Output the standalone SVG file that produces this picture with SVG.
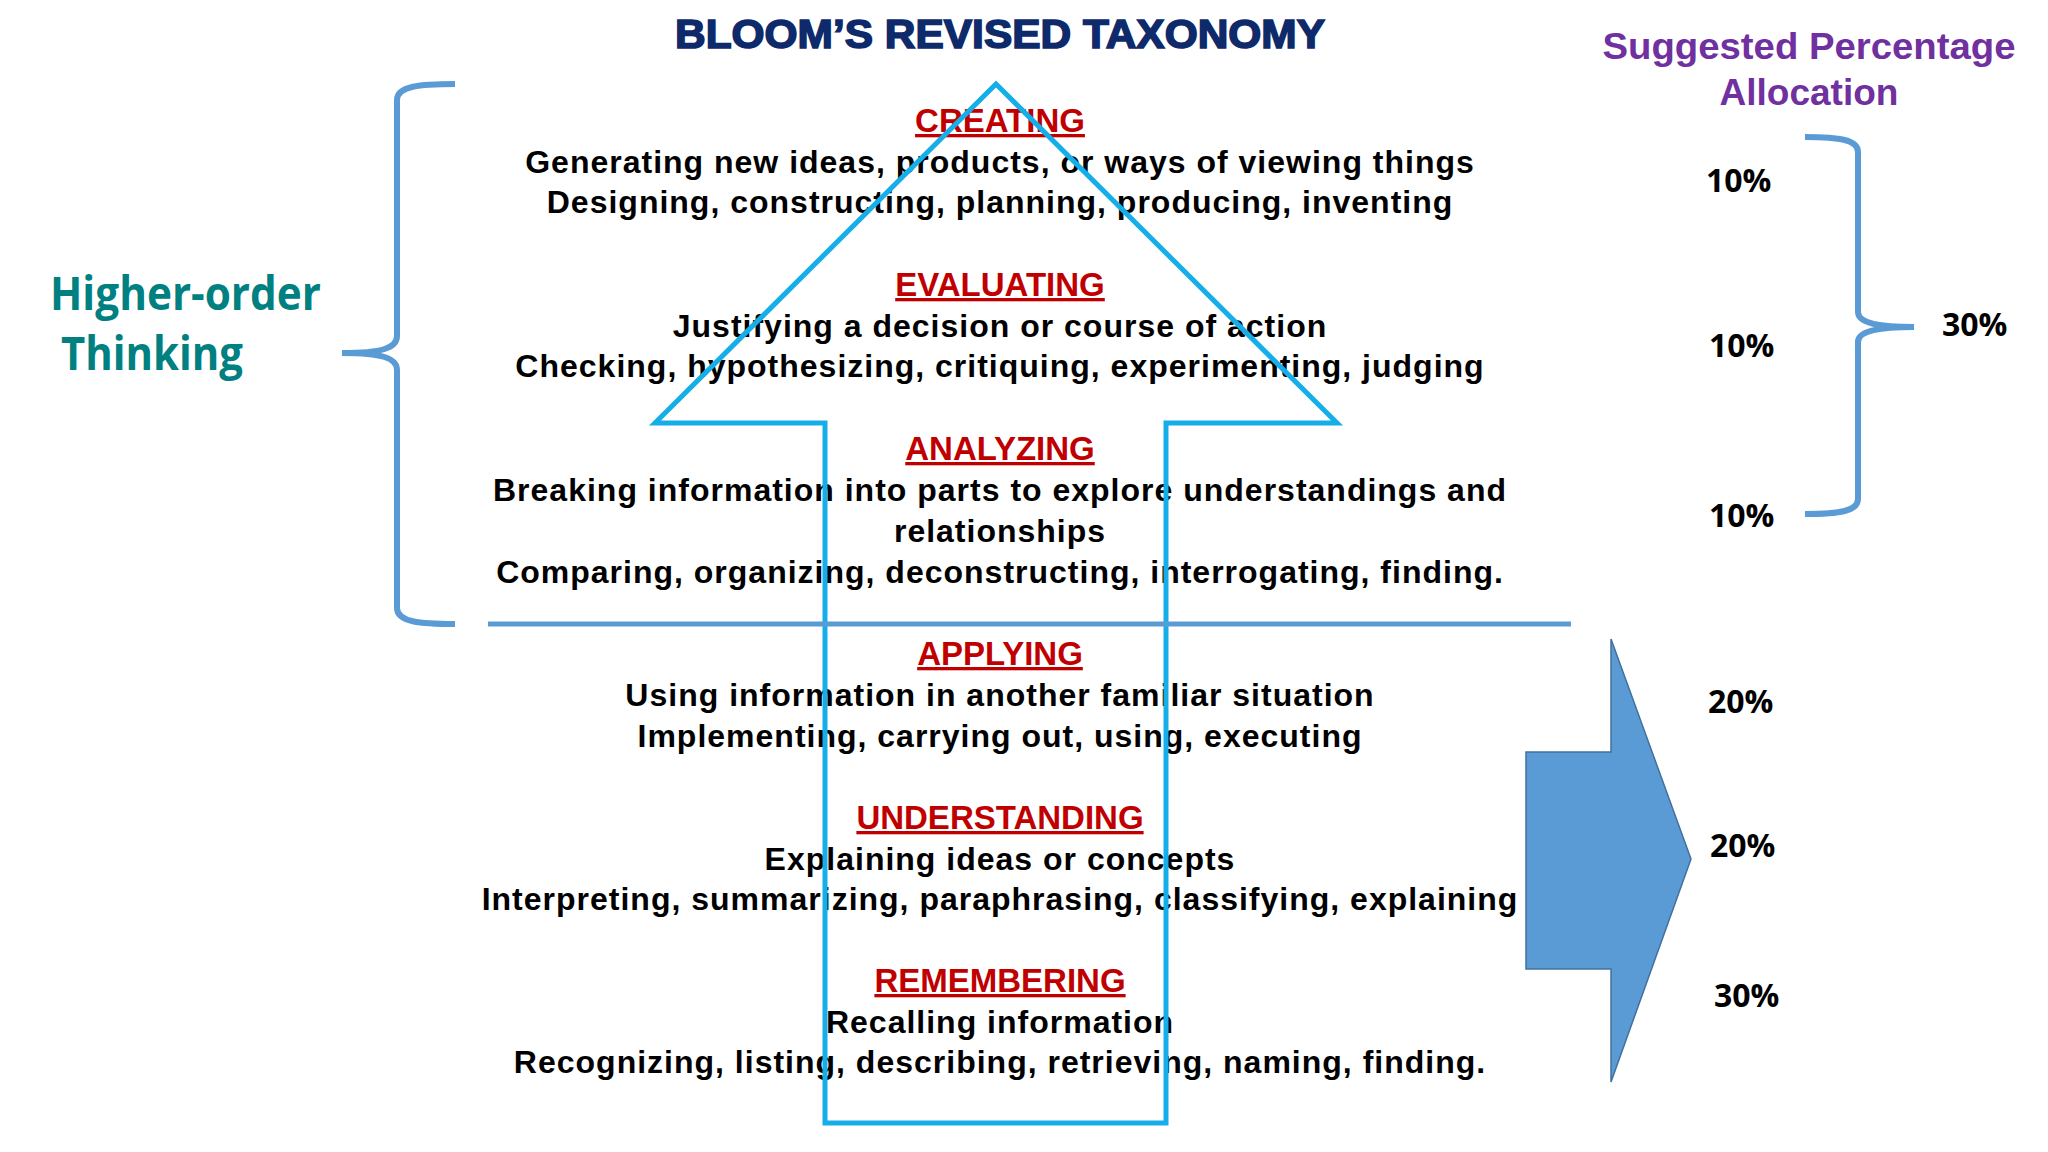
<svg xmlns="http://www.w3.org/2000/svg" width="2048" height="1152" viewBox="0 0 2048 1152">
<style>
.title{font-family:"Liberation Sans",Arial,sans-serif;font-weight:bold;font-size:40px;fill:#0E2A6B;stroke:#0E2A6B;stroke-width:1.6px}
.head{font-family:"Liberation Sans",Arial,sans-serif;font-weight:bold;font-size:33px;fill:#C00000;text-decoration:underline}
.body{font-family:"Liberation Sans",Arial,sans-serif;font-weight:bold;font-size:32px;letter-spacing:1px;fill:#000}
.pct{font-family:"Open Sans","Liberation Sans",sans-serif;font-weight:bold;font-size:32px;fill:#000}
.side{font-family:"Open Sans","Liberation Sans",sans-serif;font-weight:bold;font-size:46px;fill:#008080}
.alloc{font-family:"Liberation Sans",Arial,sans-serif;font-weight:bold;font-size:37px;fill:#7030A0}
.brace{fill:none;stroke:#5B9BD5;stroke-width:6;stroke-linecap:butt}
.up{fill:none;stroke:#16AEE8;stroke-width:5;stroke-linejoin:miter}
</style>
<rect width="2048" height="1152" fill="#FFFFFF"/>
<g id="title">
<text class="title" x="1000" y="48" text-anchor="middle" textLength="650" lengthAdjust="spacingAndGlyphs">BLOOM’S REVISED TAXONOMY</text>
</g>
<g id="higher-order">
<text class="side" x="50" y="310" textLength="271" lengthAdjust="spacingAndGlyphs">Higher-order</text>
<text class="side" x="61" y="370" textLength="182" lengthAdjust="spacingAndGlyphs">Thinking</text>
</g>
<g id="allocation-title" text-anchor="middle">
<text class="alloc" x="1809" y="59" textLength="413" lengthAdjust="spacingAndGlyphs">Suggested Percentage</text>
<text class="alloc" x="1809" y="105">Allocation</text>
</g>
<g id="creating" text-anchor="middle">
<text class="head" x="1000" y="132">CREATING</text>
<text class="body" x="1000" y="173">Generating new ideas, products, or ways of viewing things</text>
<text class="body" x="1000" y="213">Designing, constructing, planning, producing, inventing</text>
</g>
<g id="evaluating" text-anchor="middle">
<text class="head" x="1000" y="296">EVALUATING</text>
<text class="body" x="1000" y="337">Justifying a decision or course of action</text>
<text class="body" x="1000" y="377">Checking, hypothesizing, critiquing, experimenting, judging</text>
</g>
<g id="analyzing" text-anchor="middle">
<text class="head" x="1000" y="460">ANALYZING</text>
<text class="body" x="1000" y="501">Breaking information into parts to explore understandings and</text>
<text class="body" x="1000" y="542">relationships</text>
<text class="body" x="1000" y="583">Comparing, organizing, deconstructing, interrogating, finding.</text>
</g>
<g id="applying" text-anchor="middle">
<text class="head" x="1000" y="665">APPLYING</text>
<text class="body" x="1000" y="706">Using information in another familiar situation</text>
<text class="body" x="1000" y="747">Implementing, carrying out, using, executing</text>
</g>
<g id="understanding" text-anchor="middle">
<text class="head" x="1000" y="829">UNDERSTANDING</text>
<text class="body" x="1000" y="870">Explaining ideas or concepts</text>
<text class="body" x="1000" y="910">Interpreting, summarizing, paraphrasing, classifying, explaining</text>
</g>
<g id="remembering" text-anchor="middle">
<text class="head" x="1000" y="992">REMEMBERING</text>
<text class="body" x="1000" y="1033">Recalling information</text>
<text class="body" x="1000" y="1073">Recognizing, listing, describing, retrieving, naming, finding.</text>
</g>
<g id="percentages">
<text class="pct" x="1706" y="192">10%</text>
<text class="pct" x="1709" y="357">10%</text>
<text class="pct" x="1709" y="527">10%</text>
<text class="pct" x="1942" y="336">30%</text>
<text class="pct" x="1708" y="713">20%</text>
<text class="pct" x="1710" y="857">20%</text>
<text class="pct" x="1714" y="1007">30%</text>
</g>
<g id="connectors">
<path id="up-arrow" class="up" d="M996,84 L1337,423 L1166,423 L1166,1123 L825,1123 L825,423 L655,423 Z"/>
<path id="left-brace" class="brace" d="M455,84 C420,84 397,86 397,100 L397,336 C397,348 382,353 342,353 C382,353 397,358 397,370 L397,608 C397,622 420,624 455,624"/>
<line id="divider" x1="488" y1="624" x2="1571" y2="624" stroke="#5B9BD5" stroke-width="5"/>
<path id="right-brace" class="brace" d="M1805,137 C1840,137 1858,140 1858,152 L1858,312 C1858,322 1876,327 1914,327 C1876,327 1858,332 1858,342 L1858,499 C1858,511 1840,514 1805,514"/>
<path id="right-arrow" d="M1526,752 L1611,752 L1611,639 L1691,859 L1611,1082 L1611,969 L1526,969 Z" fill="#5B9BD5" stroke="#41719C" stroke-width="1.5"/>
</g>
</svg>
